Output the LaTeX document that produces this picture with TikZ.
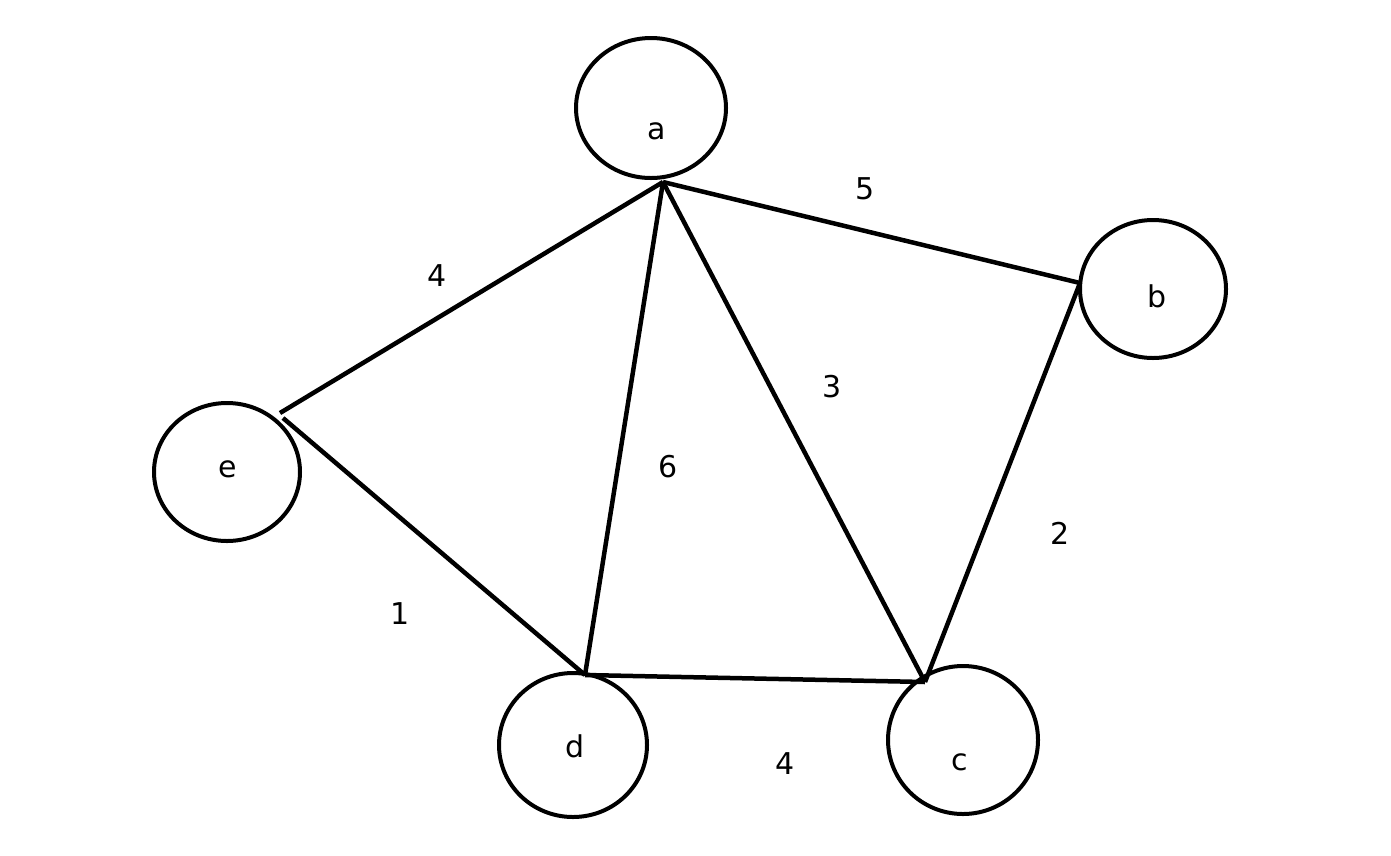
\documentclass[tikz,border=0pt]{standalone}
\usepackage{fontspec}
\setmainfont{DejaVu Sans}
\usetikzlibrary{shapes.geometric}
\begin{document}
\begin{tikzpicture}[x=1pt,y=-1pt,
  vert/.style={draw,ellipse,line width=4pt,inner sep=0pt},
  lbl/.style={font=\fontsize{30}{30}\selectfont},
  edge/.style={line width=4.5pt}]
\useasboundingbox (0,0) rectangle (1391,855);
\node[vert,minimum width=150,minimum height=140] (a) at (651,108) {};
\node[vert,minimum width=146,minimum height=138] (b) at (1153,289) {};
\node[vert,minimum width=146,minimum height=138] (e) at (227,472) {};
\node[vert,minimum width=148,minimum height=144] (d) at (573,745) {};
\node[vert,minimum width=150,minimum height=148] (c) at (963,740) {};
\node[lbl] (ta) at (657,131) {a};
\node[lbl] (tb) at (1157,296) {b};
\node[lbl] (te) at (228,469) {e};
\node[lbl] (td) at (575,746) {d};
\node[lbl] (tc) at (960,762) {c};
\coordinate (pa) at (663,182);
\coordinate (pb) at (1080,283);
\coordinate (pe) at (280,413);
\coordinate (pe2) at (283,418);
\coordinate (pd) at (585,675);
\coordinate (pc) at (925,682);
\draw[edge] (pa) -- (pb);
\draw[edge] (pa) -- (pe);
\draw[edge] (pa) -- (pd);
\draw[edge] (pa) -- (pc);
\draw[edge] (pb) -- (pc);
\draw[edge] (pe2) -- (pd);
\draw[edge] (pd) -- (pc);
\node[lbl] (l1) at (865,189) {5};
\node[lbl] (l2) at (437,276) {4};
\node[lbl] (l3) at (832,387) {3};
\node[lbl] (l4) at (668,467) {6};
\node[lbl] (l5) at (1060,533) {2};
\node[lbl] (l6) at (400,614) {1};
\node[lbl] (l7) at (785,764) {4};
\end{tikzpicture}
\end{document}
